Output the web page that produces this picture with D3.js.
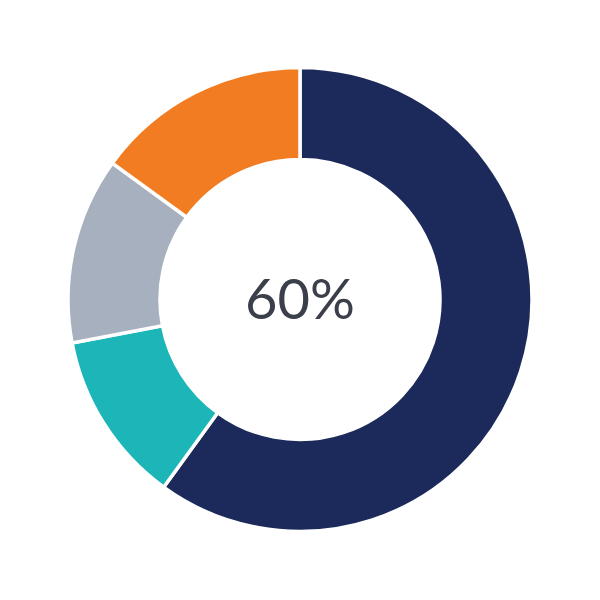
<!DOCTYPE html>
<html>
<head>
<meta charset="utf-8">
<script src="https://cdn.jsdelivr.net/npm/d3@7"></script>
<style>
  body { margin: 0; background: #fff; }
</style>
</head>
<body>
<div class="graphic"></div>
<script>
var categories = ["A", "B", "C", "D"];
var values = [60, 12, 13, 15];
var centerLabel = "60%";

var palette = ["#1b2a5a", "#1cb5b8", "#a7b0bf", "#f27c22"];

var width = 600;
var height = 600;

var svg = d3.select(".graphic")
    .append("svg")
    .attr("width", width)
    .attr("height", height);

var g = svg.append("g")
    .attr("transform", "translate(300,299.5)");

var color = d3.scaleOrdinal().domain(categories).range(palette);

var pie = d3.pie().sort(null).value(function (d, i) { return values[i]; });
var arc = d3.arc().innerRadius(140).outerRadius(232);

g.selectAll("path")
    .data(pie(categories))
    .join("path")
    .attr("d", arc)
    .attr("fill", function (d) { return color(d.data); })
    .attr("stroke", "#fff")
    .attr("stroke-width", 3.5);

g.append("text")
    .attr("text-anchor", "middle")
    .attr("dy", "0.35em")
    .attr("font-family", "Lato, sans-serif")
    .attr("font-weight", 400)
    .attr("font-size", 56)
    .attr("fill", "#3a3f4a")
    .text(centerLabel);
</script>
</body>
</html>
